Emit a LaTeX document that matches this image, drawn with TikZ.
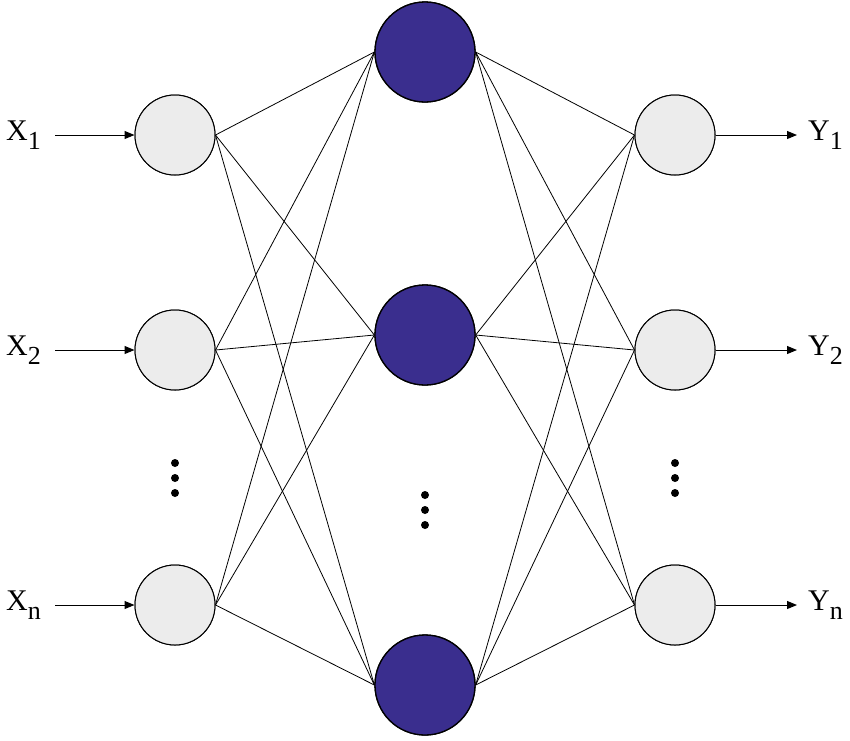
\documentclass[tikz,border=0pt]{standalone}
\usepackage{fontspec}
\setmainfont{Liberation Serif}
\usetikzlibrary{arrows.meta}
\definecolor{hid}{HTML}{3A2E8E}
\definecolor{inp}{HTML}{ECECEC}
\newcommand{\sbs}[1]{\raisebox{-0.3em}{\fontsize{26}{30}\selectfont #1}}
\begin{document}
\begin{tikzpicture}[x=1pt,y=-1pt,
  io/.style={circle,draw,line width=1pt,fill=inp,minimum size=80pt,inner sep=0},
  hn/.style={circle,draw,line width=1.3pt,fill=hid,minimum size=100pt,inner sep=0},
  lab/.style={font=\fontsize{30}{36}\selectfont,inner sep=0},
  ar/.style={-{Triangle[length=10pt,width=8pt]},line width=1pt},
  ln/.style={line width=0.8pt},
  dot/.style={circle,fill=black,inner sep=0,minimum size=8pt}]
\useasboundingbox (0,0) rectangle (850,740);
\node[io] (i1) at (175,135) {};
\node[io] (i2) at (175,350) {};
\node[io] (i3) at (175,605) {};
\node[hn] (h1) at (425,52) {};
\node[hn] (h2) at (425,335) {};
\node[hn] (h3) at (425,685) {};
\node[io] (o1) at (675,135) {};
\node[io] (o2) at (675,350) {};
\node[io] (o3) at (675,605) {};
\begin{scope}[on background layer/.try]
\foreach \i in {1,2,3}{\foreach \h in {1,2,3}{
  \draw[ln] (i\i.east) -- (h\h.west);
  \draw[ln] (h\h.east) -- (o\i.west);}}
\end{scope}
\foreach \n in {h1,h2,h3}{\node[hn] at (\n) {};}
\foreach \n in {i1,i2,i3,o1,o2,o3}{\node[io] at (\n) {};}
\node[lab,anchor=west] (x1) at (6,135) {X\sbs{1}};
\node[lab,anchor=west] (x2) at (6,350) {X\sbs{2}};
\node[lab,anchor=west] (x3) at (6,605) {X\sbs{n}};
\coordinate (a1) at (55,135);\coordinate (a2) at (55,350);\coordinate (a3) at (55,605);
\draw[ar] (a1) -- (i1); \draw[ar] (a2) -- (i2); \draw[ar] (a3) -- (i3);
\node[lab,anchor=west] (y1) at (808,135) {Y\sbs{1}};
\node[lab,anchor=west] (y2) at (808,350) {Y\sbs{2}};
\node[lab,anchor=west] (y3) at (808,605) {Y\sbs{n}};
\coordinate (b1) at (797,135);\coordinate (b2) at (797,350);\coordinate (b3) at (797,605);
\draw[ar] (o1) -- (b1); \draw[ar] (o2) -- (b2); \draw[ar] (o3) -- (b3);
\foreach \y [count=\k] in {463,478,493}{
  \node[dot] (dl\k) at (175,\y) {};
  \node[dot] (dr\k) at (675,\y) {};}
\foreach \y [count=\k] in {495,510,525}{\node[dot] (dm\k) at (425,\y) {};}
\end{tikzpicture}
\end{document}
